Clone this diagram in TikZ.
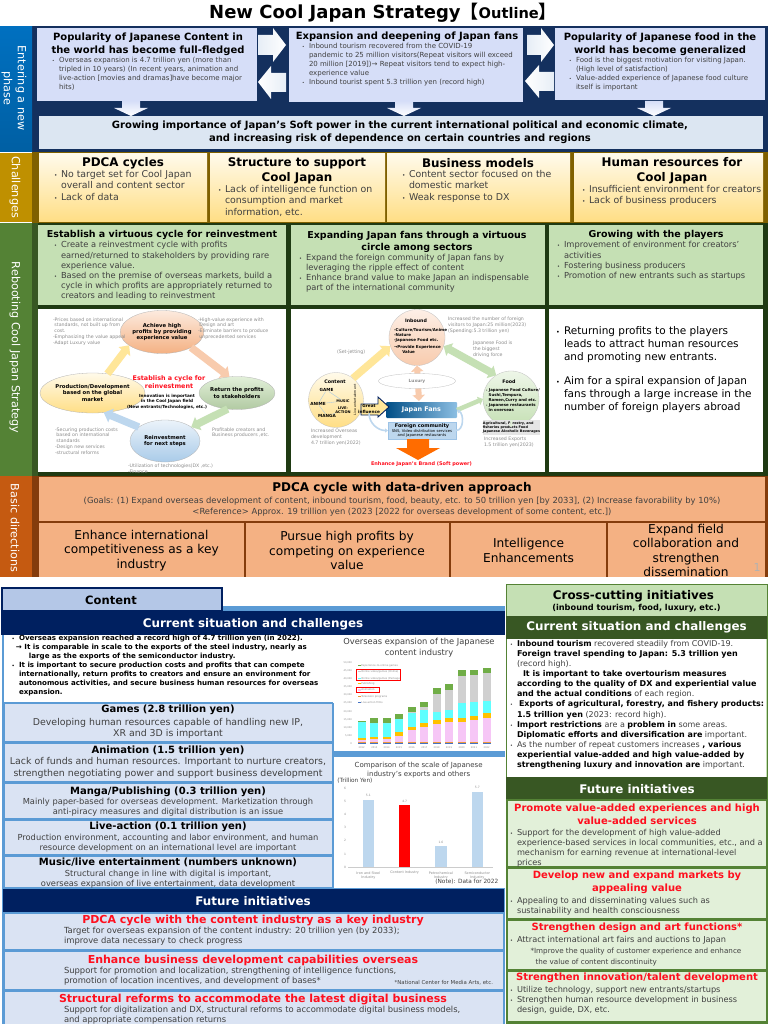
\documentclass[tikz,border=0pt]{standalone}
\usepackage{fontspec}
\setmainfont{DejaVu Sans}
\newfontfamily\cjkfont{Noto Sans CJK JP}
\usetikzlibrary{shapes.geometric,arrows.meta}

\definecolor{navy}{HTML}{14305E}
\definecolor{darknavy}{HTML}{002060}
\definecolor{skyline}{HTML}{5B9BD5}
\definecolor{lav}{HTML}{D6DEF8}
\definecolor{ice}{HTML}{DCE6F2}
\definecolor{paleblue}{HTML}{DAE3F3}
\definecolor{tabpale}{HTML}{B4C7E7}
\definecolor{tabblue}{HTML}{0070C0}
\definecolor{tabgold}{HTML}{BF9000}
\definecolor{stripbrown}{HTML}{7F6000}
\definecolor{tabgreen}{HTML}{548235}
\definecolor{darkgreen}{HTML}{1F3A13}
\definecolor{headgreen}{HTML}{385723}
\definecolor{leaf}{HTML}{C5E0B4}
\definecolor{paleleaf}{HTML}{E2F0D9}
\definecolor{taborange}{HTML}{C55A11}
\definecolor{rust}{HTML}{843C0C}
\definecolor{peach}{HTML}{F4B183}
\definecolor{body}{HTML}{404040}
\definecolor{note}{HTML}{8C8C8C}
\definecolor{redtxt}{HTML}{FF0F1E}
\definecolor{goldtop}{HTML}{FFFAEA}
\definecolor{goldend}{HTML}{FFDE85}
\definecolor{pyellow}{HTML}{FFE699}
\definecolor{ppeach}{HTML}{F8CBAD}
\definecolor{pgreen}{HTML}{C5E0B4}
\definecolor{pblue}{HTML}{BDD7EE}
\definecolor{barpink}{HTML}{F6C6F6}
\definecolor{barcyan}{HTML}{5FFFFF}
\definecolor{barblue}{HTML}{4472C4}
\definecolor{barorange}{HTML}{ED9A3C}
\definecolor{baryellow}{HTML}{FFC000}
\definecolor{bargray}{HTML}{D0D0D0}
\definecolor{bargreen}{HTML}{70AD47}

\newcommand{\fs}[2]{\fontsize{#1}{#2}\selectfont}
\newcommand{\dt}{\scalebox{.6}{•}}
\newcommand{\bu}{\makebox[7pt][l]{\dt}}
\newcommand{\nx}{\hspace*{7pt}}
\newcommand{\bb}[1]{\textbf{\color{black}#1}}

\tikzset{
  every node/.style={inner sep=0pt,outer sep=0pt},
  tabtxt/.style={rotate=-90,align=center,text=white,font=\fs{11.2}{14}},
  ttl/.style={align=center,text=black,font=\bfseries\fs{10}{13}},
  txt/.style={align=left,anchor=north west,text=body},
  sec/.style={align=center,text=black,font=\bfseries\fs{11.9}{15}},
  sub/.style={align=center,text=body,font=\fs{8.3}{10.4}},
  redttl/.style={align=center,text=redtxt,font=\bfseries\fs{10}{13}},
  head/.style={align=center,text=white,font=\bfseries\fs{11.9}{14}},
  bluebox/.style={fill=paleblue,draw=skyline,line width=1.2pt},
  greenbox/.style={fill=paleleaf,draw=tabgreen,line width=1.2pt},
  blockarrow/.style={line width=#1,-{Triangle[width=1.9*#1,length=1.05*#1]}},
  blockarrow/.default=7.5pt,
  gnote/.style={align=left,anchor=north west,text=note,font=\fs{4.7}{5.9}},
  bub/.style={ellipse,draw=gray!60,line width=0.3pt,align=center,font=\bfseries\fs{5.3}{6.4}},
}

\begin{document}
\begin{tikzpicture}[x=1pt,y=-1pt]
\useasboundingbox (0,0) rectangle (768,1024);

%title
\node (title) at (383,13) {\bfseries\fs{18}{22}New Cool Japan Strategy{\cjkfont 【}\textbf{\fs{14.6}{22}Outline}{\cjkfont 】}};

%entering a new phase
\fill[navy] (32,26) rectangle (768,152);
\shade[top color=tabblue,bottom color=tabblue!85!black] (0,27) rectangle (32,152);
\node[tabtxt] (phase) at (14,88) {Entering a new\\phase};

\fill[lav] (37,28) rectangle (257,101);
\fill[lav] (289,28) rectangle (523,102);
\fill[lav] (555,28) rectangle (765,100);
\fill[ice] (39,116) rectangle (763,149);

\shade[left color=ice!70,right color=white] (258,35) -- (273,35) -- (273,28) -- (286,45) -- (273,62) -- (273,55) -- (258,55) -- cycle;
\shade[right color=ice!70,left color=white] (286,73) -- (271,73) -- (271,66) -- (258,82) -- (271,99) -- (271,92) -- (286,92) -- cycle;
\shade[left color=ice!70,right color=white] (527,35) -- (541,35) -- (541,28) -- (554,45) -- (541,62) -- (541,55) -- (527,55) -- cycle;
\shade[right color=ice!70,left color=white] (554,72) -- (539,72) -- (539,65) -- (525,81) -- (539,98) -- (539,91) -- (554,91) -- cycle;
\foreach \ax in {131,404,654}
  \shade[top color=lav,bottom color=white] (\ax-9,101) -- (\ax+9,101) -- (\ax+9,108) -- (\ax+17,108) -- (\ax,116) -- (\ax-17,108) -- (\ax-9,108) -- cycle;

\node[ttl] (popa) at (148,44) {Popularity of Japanese Content in\\the world has become full-fledged};
\node[txt,font=\fs{7}{9}] (popb) at (52,57) {\bu Overseas expansion is 4.7 trillion yen (more than\\\nx tripled in 10 years) (In recent years, animation and\\\nx live-action [movies and dramas]have become major\\\nx hits)};
\node[ttl] (fana) at (407,37) {Expansion and deepening of Japan fans};
\node[txt,font=\fs{7}{9}] (fanb) at (302,43) {\bu Inbound tourism recovered from the COVID-19\\\nx pandemic to 25 million visitors(Repeat visitors will exceed\\\nx 20 million [2019])→ Repeat visitors tend to expect high-\\\nx experience value\\\bu Inbound tourist spent 5.3 trillion yen (record high)};
\node[ttl] (fooda) at (660,44) {Popularity of Japanese food in the\\world has become generalized};
\node[txt,font=\fs{7}{9}] (foodb) at (569,57) {\bu Food is the biggest motivation for visiting Japan.\\\nx (High level of satisfaction)\\\bu Value-added experience of Japanese food culture\\\nx itself is important};
\node[ttl] (soft) at (400,132.5) {Growing importance of Japan's Soft power in the current international political and economic climate,\\and increasing risk of dependence on certain countries and regions};

%challenges
\fill[stripbrown] (32,152) rectangle (768,223);
\fill[tabgold] (0,153) rectangle (32,222);
\node[tabtxt] (chal) at (15,187) {Challenges};
\foreach \xa/\xb in {39/207,210/385,387/570,574/763}
  \shade[top color=goldtop,bottom color=goldend] (\xa,154) rectangle (\xb,222);

\node[sec] (pdcaa) at (123,163) {PDCA cycles};
\node[txt,font=\fs{9.4}{11.2}] (pdcab) at (54,170.5) {\bu No target set for Cool Japan\\\nx overall and content sector\\\bu Lack of data};
\node[sec] (strua) at (297,170.5) {Structure to support\\Cool Japan};
\node[txt,font=\fs{9.4}{11.2}] (strub) at (218,185.5) {\bu Lack of intelligence function on\\\nx consumption and market\\\nx information, etc.};
\node[sec] (busa) at (478,163) {Business models};
\node[txt,font=\fs{9.4}{11.2}] (busb) at (402,170.5) {\bu Content sector focused on the\\\nx domestic market\\\bu Weak response to DX};
\node[sec] (huma) at (672,170.5) {Human resources for\\Cool Japan};
\node[txt,font=\fs{9.4}{11.2}] (humb) at (582,185.5) {\bu Insufficient environment for creators\\\bu Lack of business producers};

%rebooting
\fill[darkgreen] (32,223) rectangle (768,477);
\fill[headgreen] (32,223) rectangle (38,477);
\fill[tabgreen] (0,223) rectangle (32,476);
\node[tabtxt] (reboot) at (15,347.5) {Rebooting Cool Japan Strategy};
\foreach \xa/\xb in {38/286,291/545,549/763}{
  \fill[leaf] (\xa,225) rectangle (\xb,305);
  \fill[white] (\xa,309) rectangle (\xb,472);
}
\node[ttl,font=\bfseries\fs{9.5}{12.2}] (esta) at (162,235) {Establish a virtuous cycle for reinvestment};
\node[txt,font=\fs{8.3}{10.2}] (estb) at (54,241.5) {\bu Create a reinvestment cycle with profits\\\nx earned/returned to stakeholders by providing rare\\\nx experience value.\\\bu Based on the premise of overseas markets, build a\\\nx cycle in which profits are appropriately returned to\\\nx creators and leading to reinvestment};
\node[ttl,font=\bfseries\fs{9.5}{12.2}] (expa) at (417,242) {Expanding Japan fans through a virtuous\\circle among sectors};
\node[txt,font=\fs{8.3}{10.2}] (expb) at (299,254) {\bu Expand the foreign community of Japan fans by\\\nx leveraging the ripple effect of content\\\bu Enhance brand value to make Japan an indispensable\\\nx part of the international community};
\node[ttl,font=\bfseries\fs{9.5}{12.2}] (growa) at (656,235) {Growing with the players};
\node[txt,font=\fs{8.3}{10.2}] (growb) at (557,241.5) {\bu Improvement of environment for creators'\\\nx activities\\\bu Fostering business producers\\\bu Promotion of new entrants such as startups};

%cycle for reinvestment
\node[bub,minimum width=62pt,minimum height=43pt,top color=ppeach!40,bottom color=peach] (achieve) at (162,332) {Achieve high\\profits by providing\\experience value};
\node[bub,minimum width=78pt,minimum height=40pt,top color=goldtop,bottom color=goldend] (prod) at (92.5,393) {Production/Development\\based on the global\\market};
\node[bub,minimum width=65pt,minimum height=33pt,top color=paleleaf,bottom color=pgreen!90!black] (ret) at (237,393) {Return the profits\\to stakeholders};
\node[bub,minimum width=70pt,minimum height=42pt,top color=pblue!30,bottom color=pblue!80!skyline] (reinv) at (165,441) {Reinvestment\\for next steps};
\draw[blockarrow,pyellow] (prod.52) -- (achieve.202);
\draw[blockarrow,ppeach] (achieve.-28) -- (ret.115);
\draw[blockarrow,pgreen] (ret.-120) -- (reinv.28);
\draw[blockarrow,pblue] (reinv.152) -- (prod.-60);
\node[align=center,text=redtxt,font=\bfseries\fs{6.4}{8.2}] (cyc) at (169,382) {Establish a cycle for\\reinvestment};
\node[align=center,text=black,font=\bfseries\fs{4.2}{5.6}] (innov) at (167,401.5) {Innovation is important\\in the Cool Japan field\\(New entrants/Technologies, etc.)};
\node[gnote] (na) at (53,317.5) {-Prices based on international\\\ standards, not built up from\\\ cost.\\-Emphasizing the value appeal\\-Adapt Luxury value};
\node[gnote] (nb) at (198,317.5) {-High-value experience with\\\ Design and art\\-Eliminate barriers to produce\\\ unprecedented services};
\node[gnote] (nc) at (55,427.5) {-Securing production costs\\\ based on international\\\ standards\\-Design new services\\-structural reforms};
\node[gnote] (nd) at (212,427.5) {Profitable creators and\\Business producers ,etc.};
\node[gnote] (ne) at (128,464) {-Utilization of technologies(DX ,etc.)\\-Finance};

%japan fans
\node[circle,draw=gray!50,line width=0.3pt,minimum size=56pt,top color=ppeach!30,bottom color=ppeach] (inbound) at (417,337.5) {};
\node[circle,draw=gray!50,line width=0.3pt,minimum size=55pt,top color=goldtop,bottom color=goldend] (content) at (336,400) {};
\node[circle,draw=gray!50,line width=0.3pt,minimum size=56pt,top color=paleleaf!60,bottom color=pgreen] (food) at (511,399) {};
\draw[blockarrow,pyellow] (content.52) -- (inbound.198);
\draw[blockarrow,{Triangle[width=14pt,length=7pt]}-{Triangle[width=14pt,length=7pt]},pgreen] (inbound.-18) -- (food.122);
\draw[blockarrow=6pt,{Triangle[width=12pt,length=6pt]}-{Triangle[width=12pt,length=6pt]},ppeach] (inbound.south) -- (419,401);
\node[ellipse,draw=gray!50,line width=0.3pt,fill=white,minimum width=77pt,minimum height=15pt,text=note,font=\bfseries\fs{4.3}{5}] (luxury) at (417,381) {Luxury};
\node[rounded corners=1pt,minimum width=71pt,minimum height=16pt,left color=tabblue!70!black,right color=tabblue!45,text=white,font=\bfseries\fs{6.4}{8}] (fans) at (421.5,410) {Japan Fans};
\draw[blockarrow=4.5pt,pgreen] (fans.east) -- (food.west);
\node[fill=pblue,draw=skyline!60,line width=0.4pt,minimum width=68pt,minimum height=17pt,align=center,text=black,font=\fs{3.8}{4.4}] (foreign) at (422,430.5) {{\bfseries\fs{5}{5.6}Foreign community}\\SNS, Video distribution services\\and Japanese restaurants};
\draw[pblue,line width=1.6pt,-{Triangle[width=4pt,length=3pt]}] (foreign.east) to[out=0,in=-30] (fans.east);
\draw[draw=darknavy,line width=0.9pt,fill=pyellow] (361,404) -- (378,404) -- (378,397) -- (389,407) -- (378,417) -- (378,415) -- (361,415) -- cycle;
\node[align=center,text=black,font=\bfseries\fs{4.2}{5.4}] (great) at (369,409) {Great\\influence};
\draw[pblue,line width=1.6pt,-{Triangle[width=4pt,length=3pt]}] (great.south) to[out=-90,in=180] (foreign.west);
\fill[orange!85!red] (407,439) -- (429,439) -- (429,448) -- (440,448) -- (418,460) -- (396,448) -- (407,448) -- cycle;
\node[text=redtxt,font=\bfseries\fs{4.95}{6}] (brand) at (421.5,464) {Enhance Japan's Brand (Soft power)};

\node[align=left,text=black,font=\bfseries\fs{4.7}{5}] (ibt) at (416,320.5) {Inbound};
\node[align=left,anchor=north west,text=black,font=\bfseries\fs{4}{5}] (ibb) at (394,328.5) {-Culture/Tourism/Anime\\-Nature\\-Japanese Food etc.\\[2pt]→Provide Experience\\\ \ \ \ \ \ Value};
\node[text=black,font=\bfseries\fs{4.8}{5}] (ctt) at (335,382) {Content};
\node[text=black,font=\bfseries\fs{4.2}{5}] (cga) at (326.5,390) {GAME};
\node[text=black,font=\bfseries\fs{4.2}{5}] (can) at (318,404) {ANIME};
\node[text=black,font=\bfseries\fs{3.6}{5}] (cmu) at (343,401) {MUSIC};
\node[align=center,text=black,font=\bfseries\fs{3.6}{4.2}] (cli) at (343,410.5) {LIVE-\\ACTION};
\node[text=black,font=\bfseries\fs{4.2}{5}] (cma) at (327,416) {MANGA};
\node[rotate=90,text=black,font=\fs{3.2}{4}] (cen) at (355,400) {Live entertainment};
\foreach \ca/\cb in {can/cga,can/cma,cga/cmu,cma/cli,can/cmu}
  \draw[skyline!60,line width=0.3pt] (\ca) -- (\cb);
\node[text=black,font=\bfseries\fs{4.8}{5}] (ftt) at (509,381.5) {Food};
\node[align=left,anchor=north west,text=black,font=\bfseries\fs{3.9}{4.8}] (fbb) at (486,389) {\dt{} Japanese Food Culture/\\\ \ Sushi,Tempura,\\\ \ Ramen,Curry and etc.\\\dt{} Japanese restaurants\\\ \ in overseas};
\node[fill=gray!20,minimum width=57pt,minimum height=15pt,align=left,text=black,font=\bfseries\fs{3.4}{4.2}] (fbx) at (511.5,427.5) {Agricultural, Forestry, and\\fisheries products Food\\Japanese Alcoholic Beverages};
\draw[line width=2pt,paleleaf,-{Triangle[width=5pt,length=2.5pt]}] (fbx.north) -- (food.south);

\node[gnote] (nf) at (448,317) {Increased the number of foreign\\visitors to Japan:25 million(2023)\\(Spending:5.3 trillion yen)};
\node[gnote] (ng) at (337,350) {(Set-jetting)};
\node[gnote] (nh) at (473,341) {Japanese Food is\\the biggest\\driving force};
\node[gnote] (ni) at (311,429) {Increased Overseas\\development\\4.7 trillion yen(2022)};
\node[gnote] (nj) at (484,437) {Increased Exports\\1.5 trillion yen(2023)};

\node[txt,text=black,font=\fs{10.5}{13}] (spiral) at (556,327) {\makebox[8pt][l]{\dt}Returning profits to the players\\\hspace*{8pt}leads to attract human resources\\\hspace*{8pt}and promoting new entrants.\\[11pt]\makebox[8pt][l]{\dt}Aim for a spiral expansion of Japan\\\hspace*{8pt}fans through a large increase in the\\\hspace*{8pt}number of foreign players abroad};

%basic directions
\fill[rust] (32,476) rectangle (768,577);
\fill[taborange] (0,476) rectangle (32,577);
\node[tabtxt] (basic) at (15,528) {Basic directions};
\fill[peach] (39,477) rectangle (765,521);
\foreach \xa/\xb in {39/244,246/449,451/606,608/765}
  \fill[peach] (\xa,523) rectangle (\xb,577);
\node[align=center,text=black,font=\bfseries\fs{12}{13}] (pdc) at (402,488) {PDCA cycle with data-driven approach};
\node[align=center,text=body,font=\fs{8.4}{11}] (goal) at (402,506.5) {(Goals: (1) Expand overseas development of content, inbound tourism, food, beauty, etc. to 50 trillion yen [by 2033], (2) Increase favorability by 10\%)\\<Reference> Approx. 19 trillion yen (2023 [2022 for overseas development of some content, etc.])};
\node[align=center,text=black,font=\fs{12.2}{14.2}] (ba) at (141.5,550.5) {Enhance international\\competitiveness as a key\\industry};
\node[align=center,text=black,font=\fs{12.2}{14.2}] (bb) at (347,550.5) {Pursue high profits by\\competing on experience\\value};
\node[align=center,text=black,font=\fs{12.2}{14.2}] (bc) at (528.5,550.5) {Intelligence\\Enhancements};
\node[align=center,text=black,font=\fs{12.2}{14.2}] (bd) at (686,550.5) {Expand field\\collaboration and\\strengthen\\dissemination};
\node[text=gray!60,font=\fs{11}{13}] (pg) at (757,567) {1};

%lower half
\fill[white] (0,577) rectangle (768,1024);

%content side
\fill[skyline] (222,606) rectangle (505,612);
\fill[skyline] (2,635) rectangle (505,1024);
\fill[white] (4,635) rectangle (333,702);
\fill[white] (333,635) rectangle (505,751);
\fill[white] (333,757) rectangle (505,888);
\draw[fill=tabpale,draw=darknavy,line width=1.2pt] (2,588) rectangle (222,611);
\node[text=black,font=\bfseries\fs{11.5}{14}] (cont) at (111,600) {Content};
\fill[darknavy] (1,611) rectangle (505,635);
\node[head] (cura) at (253,624) {Current situation and challenges};
\node[txt,text=black,font=\bfseries\fs{7.1}{9}] (curb) at (12,635.5) {\bu Overseas expansion reached a record high of 4.7 trillion yen (in 2022).\\\hspace*{4pt}→ It is comparable in scale to the exports of the steel industry, nearly as\\\hspace*{17pt}large as the exports of the semiconductor industry.\\\bu It is important to secure production costs and profits that can compete\\\nx internationally, return profits to creators and ensure an environment for\\\nx autonomous activities, and secure business human resources for overseas\\\nx expansion.};

\foreach \ya/\yb in {703.5/742,743.5/782,783.5/819,820.5/855,856.5/888}
  \draw[bluebox] (4,\ya) rectangle (333,\yb);
\node[text=black,font=\bfseries\fs{10}{12}] (ga) at (168,710) {Games (2.8 trillion yen)};
\node[sub,font=\fs{9.4}{11.3}] (gb) at (168,728.5) {Developing human resources capable of handling new IP,\\XR and 3D is important};
\node[text=black,font=\bfseries\fs{10}{12}] (aa) at (168,751) {Animation (1.5 trillion yen)};
\node[sub,font=\fs{9.4}{12}] (ab) at (168,768) {Lack of funds and human resources. Important to nurture creators,\\strengthen negotiating power and support business development};
\node[text=black,font=\bfseries\fs{10}{12}] (ma) at (168,791.5) {Manga/Publishing (0.3 trillion yen)};
\node[sub] (mb) at (168,807) {Mainly paper-based for overseas development. Marketization through\\anti-piracy measures and digital distribution is an issue};
\node[text=black,font=\bfseries\fs{10}{12}] (la) at (168,827) {Live-action (0.1 trillion yen)};
\node[sub] (lb) at (168,843.5) {Production environment, accounting and labor environment, and human\\resource development on an international level are important};
\node[text=black,font=\bfseries\fs{10}{12}] (ua) at (168,862.5) {Music/live entertainment (numbers unknown)};
\node[sub] (ub) at (168,879) {Structural change in line with digital is important,\\overseas expansion of live entertainment, data development};

%overseas chart
\begin{scope}[shift={(330,630)},x=0.3333pt,y=-0.3333pt]
\node[align=center,text=body,font=\fs{8.3}{10.2}] (cha) at (267,53) {Overseas expansion of the Japanese\\content industry};
\foreach \ty/\tl in {342/0,317/5{,}000,293/10{,}000,268/15{,}000,244/20{,}000,219/25{,}000,195/30{,}000,170/35{,}000,146/40{,}000,121/45{,}000,97/50{,}000}
  \node[anchor=east,text=note,font=\fs{2.4}{3}] at (66,\ty) {\tl};
\foreach \bx/\pk/\yl/\cy/\gy/\gn/\yr in {95/330/323/275/275/272/2012,133/327/320/278/278/265/2013,170/327/320/278/278/265/2014,207/318/307/268/268/253/2015,245/300/292/248/246/231/2016,283/292/280/240/230/215/2017,320/283/270/245/192/175/2018,357/275/265/240/180/161/2019,395/275/263/220/138/120/2020,432/270/258/217/136/120/2021,470/265/250/213/128/113/2022}{
  \fill[barpink] (\bx-12,342) rectangle (\bx+12,\pk);
  \fill[barblue] (\bx-12,342) rectangle (\bx+12,340);
  \fill[barorange] (\bx-12,340) rectangle (\bx+12,337);
  \fill[baryellow] (\bx-12,\pk) rectangle (\bx+12,\yl);
  \fill[barcyan] (\bx-12,\yl) rectangle (\bx+12,\cy);
  \fill[bargray] (\bx-12,\cy) rectangle (\bx+12,\gy);
  \fill[bargreen] (\bx-12,\gy) rectangle (\bx+12,\gn);
  \node[text=note,font=\fs{2.4}{3}] at (\bx,353) {\yr};
}
\foreach \ly/\lc/\lt in {106/bargreen/{Experience-to-online games},125/bargray/{Online video/games (Online)},145/barcyan/{Online video/games (Package)},161/baryellow/{Publishing},180/barpink/{Animation},199/barorange/{Television programs},217/barblue/{Live-action films}}{
  \fill[\lc] (85,\ly-2) rectangle (92,\ly+2);
  \node[anchor=west,text=note,font=\fs{2.6}{3}] at (94,\ly) {\lt};
}
\draw[red,line width=0.5pt] (78,117) rectangle (212,151);
\draw[red,line width=0.5pt] (78,172) rectangle (148,188);
\end{scope}

%exports chart
\begin{scope}[shift={(330,630)},x=0.3333pt,y=-0.3333pt]
\node[align=center,text=body,font=\fs{7}{9.4}] (chb) at (266,420) {Comparison of the scale of Japanese\\industry's exports and others};
\node[anchor=west,text=body,font=\fs{5.8}{7}] (unit) at (22,453) {(Trillion Yen)};
\foreach \ty/\tl in {711/0,672/1,632/2,593/3,553/4,514/5,475/6}
  \node[text=note,font=\fs{3}{4}] at (45,\ty) {\tl};
\draw[gray!40,line width=0.2pt] (55,711) -- (490,711);
\foreach \bx/\ty/\bc in {98/511/pblue,207/526/red,316/649/pblue,425/487/pblue}
  \fill[\bc] (\bx,711) rectangle (\bx+34,\ty);
\foreach \tx/\ty/\tl in {115/497/5.1,224/513/4.7,333/636/1.6,442/473/5.7}
  \node[text=note,font=\fs{3}{4}] at (\tx,\ty) {\tl};
\node[align=center,text=note,font=\fs{3.4}{4.2}] (ca) at (115,736) {Iron and Steel\\Industry};
\node[align=center,text=note,font=\fs{3.4}{4.2}] (cb) at (224,729) {Content Industry};
\node[align=center,text=note,font=\fs{3.4}{4.2}] (cc) at (333,736) {Petrochemical\\Industry};
\node[align=center,text=note,font=\fs{3.4}{4.2}] (cd) at (442,736) {Semiconductor\\Industry};
\node[anchor=east,text=body,font=\fs{5.8}{7}] (nt) at (505,756) {(Note): Data for 2022};
\end{scope}

%future content
\fill[darknavy] (3,889) rectangle (504,912);
\node[head] (fut) at (253,901) {Future initiatives};
\foreach \ya/\yb in {913/950,951.5/990,991.5/1030}
  \draw[bluebox] (4,\ya) rectangle (504,\yb);
\node[redttl,font=\bfseries\fs{11}{13}] (pa) at (253,920) {PDCA cycle with the content industry as a key industry};
\node[txt,font=\fs{8.4}{10}] (pb) at (64,927) {Target for overseas expansion of the content industry: 20 trillion yen (by 2033);\\improve data necessary to check progress};
\node[redttl,font=\bfseries\fs{11}{13}] (ea) at (253,960) {Enhance business development capabilities overseas};
\node[txt,font=\fs{8.4}{10}] (eb) at (64,967) {Support for promotion and localization, strengthening of intelligence functions,\\promotion of location incentives, and development of bases*};
\node[anchor=east,text=body,font=\fs{5.4}{7}] (ec) at (493,983) {*National Center for Media Arts, etc.};
\node[redttl,font=\bfseries\fs{11}{13}] (sa) at (253,999) {Structural reforms to accommodate the latest digital business};
\node[txt,font=\fs{8.4}{10}] (sb) at (64,1006) {Support for digitalization and DX, structural reforms to accommodate digital business models,\\and appropriate compensation returns};

%cross-cutting side
\draw[fill=leaf,draw=tabgreen,line width=1pt] (506,584) rectangle (767,1023);
\node[text=black,font=\bfseries\fs{11.9}{14}] (cross) at (633.5,596) {Cross-cutting initiatives};
\node[text=black,font=\bfseries\fs{8.2}{9}] (crossb) at (636.5,608) {(inbound tourism, food, luxury, etc.)};
\fill[headgreen] (506,616) rectangle (767,639);
\node[head] (curc) at (636.5,627) {Current situation and challenges};
\fill[white] (507,639) rectangle (766,777);
\node[txt,font=\fs{8}{10.15}] (curd) at (510,640) {\makebox[7pt][l]{\dt}\bb{Inbound tourism} recovered steadily from COVID-19.\\\nx\bb{Foreign travel spending to Japan: 5.3 trillion yen}\\\nx(record high).\\\hspace*{13pt}\bb{It is important to take overtourism measures}\\\nx\bb{according to the quality of DX and experiential value}\\\nx\bb{and the actual conditions} of each region.\\\makebox[9pt][l]{\dt}\bb{Exports of agricultural, forestry, and fishery products:}\\\nx\bb{1.5 trillion yen} (2023: record high).\\\makebox[7pt][l]{\dt}\bb{Import restrictions} are a \bb{problem in} some areas.\\\nx\bb{Diplomatic efforts and diversification are} important.\\\makebox[7pt][l]{\dt}As the number of repeat customers increases \bb{, various}\\\nx\bb{experiential value-added and high value-added by}\\\nx\bb{strengthening luxury and innovation are} important.};
\fill[headgreen] (506,777) rectangle (767,800);
\node[head] (futb) at (637,789) {Future initiatives};
\foreach \ya/\yb in {800/867,868/919,920/969.5,971/1022}
  \draw[greenbox] (507,\ya) rectangle (766.5,\yb);
\node[redttl] (pra) at (637,814.5) {Promote value-added experiences and high\\value-added services};
\node[txt,font=\fs{8.2}{10.1}] (prb) at (510,829) {\bu Support for the development of high value-added\\\nx experience-based services in local communities, etc., and a\\\nx mechanism for earning revenue at international-level\\\nx prices};
\node[redttl] (dva) at (637,882.5) {Develop new and expand markets by\\appealing value};
\node[txt,font=\fs{8.2}{10.1}] (dvb) at (510,897) {\bu Appealing to and disseminating values such as\\\nx sustainability and health consciousness};
\node[redttl] (dsa) at (637,928) {Strengthen design and art functions*};
\node[txt,font=\fs{8.2}{10.1}] (dsb) at (510,936.5) {\bu Attract international art fairs and auctions to Japan};
\node[txt,font=\fs{7.2}{11}] (dsc) at (530.5,948) {*Improve the quality of customer experience and enhance\\\hspace*{5pt}the value of content discontinuity};
\node[redttl] (ina) at (637,978) {Strengthen innovation/talent development};
\node[txt,font=\fs{8.2}{10.1}] (inb) at (510,986) {\bu Utilize technology, support new entrants/startups\\\bu Strengthen human resource development in business\\\nx design, guide, DX, etc.};

\end{tikzpicture}
\end{document}
